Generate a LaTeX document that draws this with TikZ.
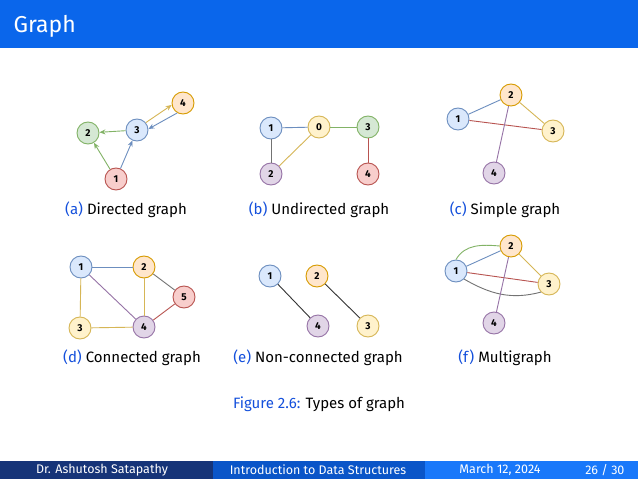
\documentclass[tikz,border=0pt]{standalone}
\usepackage{fontspec}
\setmainfont{Fira Sans}
\usetikzlibrary{arrows.meta}
\definecolor{hdr}{RGB}{10,102,235}
\definecolor{fdark}{RGB}{22,52,120}
\definecolor{fmid}{RGB}{10,85,200}
\definecolor{flight}{RGB}{25,120,250}
\definecolor{capb}{RGB}{20,80,220}
\tikzset{
 v/.style={circle,draw,line width=0.9pt,minimum size=22pt,inner sep=0pt,font=\fontsize{10}{10}\selectfont\bfseries},
 vb/.style={v,fill={rgb,255:red,218;green,232;blue,252},draw={rgb,255:red,108;green,142;blue,191}},
 vg/.style={v,fill={rgb,255:red,213;green,232;blue,212},draw={rgb,255:red,130;green,179;blue,102}},
 vo/.style={v,fill={rgb,255:red,255;green,230;blue,204},draw={rgb,255:red,215;green,155;blue,0}},
 vy/.style={v,fill={rgb,255:red,255;green,242;blue,204},draw={rgb,255:red,214;green,182;blue,86}},
 vr/.style={v,fill={rgb,255:red,248;green,206;blue,204},draw={rgb,255:red,184;green,84;blue,80}},
 vp/.style={v,fill={rgb,255:red,225;green,213;blue,231},draw={rgb,255:red,150;green,115;blue,166}},
 e/.style={line width=0.9pt},
 eb/.style={e,draw={rgb,255:red,108;green,142;blue,191}},
 eg/.style={e,draw={rgb,255:red,130;green,179;blue,102}},
 ey/.style={e,draw={rgb,255:red,214;green,182;blue,86}},
 er/.style={e,draw={rgb,255:red,184;green,84;blue,80}},
 ep/.style={e,draw={rgb,255:red,150;green,115;blue,166}},
 ek/.style={e,draw=black!80},
 eK/.style={e,draw=gray!90!black},
 arr/.style={-{Stealth[length=6pt,width=5pt]}},
 captxt/.style={font=\fontsize{15}{16}\selectfont},
 ft/.style={text=white,font=\fontsize{12.5}{13}\selectfont}
}
\begin{document}
\begin{tikzpicture}[x=1pt,y=-1pt]
\useasboundingbox (0,0) rectangle (638,479);
\fill[white] (0,0) rectangle (638,479);
\fill[hdr] (0,0) rectangle (638,48);
\node[anchor=west,text=white,font=\fontsize{23}{24}\selectfont] (title) at (10,26) {Graph};
% (a)
\node[vg] (a2) at (88,133) {2};
\node[vb] (a3) at (137,130) {3};
\node[vo] (a4) at (183,103) {4};
\node[vr] (a1) at (116,179) {1};
\draw[eg,arr] (a3) -- (a2);
\draw[eg,arr] (a1) -- (a2);
\draw[eb,arr] (a1) -- (a3);
\draw[ey,arr] (a3.40) -- (a4.190);
\draw[eb,arr] (a4.240) -- (a3.5);
% (b)
\node[vb] (b1) at (271,128) {1};
\node[vy] (b0) at (319,127) {0};
\node[vg] (b3) at (368,127) {3};
\node[vp] (b2) at (271,174) {2};
\node[vr] (b4) at (368,174) {4};
\draw[eb] (b1) -- (b0);
\draw[eg] (b0) -- (b3);
\draw[eK] (b1) -- (b2);
\draw[ey] (b2) -- (b0);
\draw[er] (b3) -- (b4);
% (c)
\node[vb] (c1) at (458,119) {1};
\node[vo] (c2) at (511,95) {2};
\node[vy] (c3) at (553,131) {3};
\node[vp] (c4) at (494,173) {4};
\draw[eb] (c1) -- (c2);
\draw[ey] (c2) -- (c3);
\draw[er] (c1) -- (c3);
\draw[ep] (c2) -- (c4);
% (d)
\node[vb] (d1) at (81,267) {1};
\node[vo] (d2) at (144,267) {2};
\node[vr] (d5) at (184,297) {5};
\node[vy] (d3) at (80,328) {3};
\node[vp] (d4) at (144,327) {4};
\draw[eb] (d1) -- (d2);
\draw[ey] (d1) -- (d3);
\draw[ep] (d1) -- (d4);
\draw[ey] (d2) -- (d4);
\draw[eK] (d2) -- (d5);
\draw[er] (d5) -- (d4);
\draw[ey] (d3) -- (d4);
% (e)
\node[vb] (e1) at (270,276) {1};
\node[vo] (e2) at (317,276) {2};
\node[vp] (e4) at (318,326) {4};
\node[vy] (e3) at (368,326) {3};
\draw[ek] (e1) -- (e4);
\draw[ek] (e2) -- (e3);
% (f)
\node[vb] (f1) at (456,271) {1};
\node[vo] (f2) at (511,246) {2};
\node[vy] (f3) at (549,284) {3};
\node[vp] (f4) at (494,323) {4};
\draw[eb] (f1) -- (f2);
\draw[eg] (f1.north) to[out=60,in=175] (f2.west);
\draw[ey] (f2) -- (f3);
\draw[er] (f1) -- (f3);
\draw[eK] (f1.south east) to[out=-30,in=-165] (f3.south west);
\draw[ep] (f2) -- (f4);
% captions
\node[captxt] (ca) at (126,210) {\textcolor{capb}{(a)} Directed graph};
\node[captxt] (cb) at (319,210) {\textcolor{capb}{(b)} Undirected graph};
\node[captxt] (cc) at (505,210) {\textcolor{capb}{(c)} Simple graph};
\node[captxt] (cd) at (132,358) {\textcolor{capb}{(d)} Connected graph};
\node[captxt] (ce) at (318,358) {\textcolor{capb}{(e)} Non-connected graph};
\node[captxt] (cf) at (505,358) {\textcolor{capb}{(f)} Multigraph};
\node[captxt] (fig) at (319,404) {\textcolor{capb}{Figure 2.6:} Types of graph};
% footer
\fill[fdark] (0,461) rectangle (213,479);
\fill[fmid] (213,461) rectangle (425,479);
\fill[flight] (425,461) rectangle (638,479);
\node[ft] (f1t) at (102,470) {Dr. Ashutosh Satapathy};
\node[ft] (f2t) at (318,470) {Introduction to Data Structures};
\node[ft] (f3t) at (500,470) {March 12, 2024};
\node[ft,anchor=east] (f4t) at (628,470) {26 / 30};
\end{tikzpicture}
\end{document}
